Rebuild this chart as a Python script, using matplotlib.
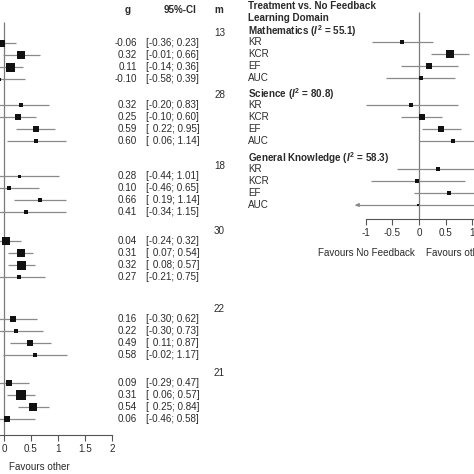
import matplotlib
matplotlib.use("Agg")
import matplotlib.pyplot as plt
from matplotlib import transforms

plt.rcParams['font.family'] = ['Liberation Sans', 'DejaVu Sans']
plt.rcParams['mathtext.fontset'] = 'custom'
plt.rcParams['mathtext.rm'] = 'Liberation Sans:bold'
plt.rcParams['mathtext.it'] = 'Liberation Sans:italic:bold'
plt.rcParams['mathtext.bf'] = 'Liberation Sans:bold'

# ---------------- data: left panel (treatment vs. other) ----------------
left_m = [13, 28, 18, 30, 22, 21]
left_g = [
    [-0.06, 0.32, 0.11, -0.10],
    [0.32, 0.25, 0.59, 0.60],
    [0.28, 0.10, 0.66, 0.41],
    [0.04, 0.31, 0.32, 0.27],
    [0.16, 0.22, 0.49, 0.58],
    [0.09, 0.31, 0.54, 0.06],
]
left_lo = [
    [-0.36, -0.01, -0.14, -0.58],
    [-0.20, -0.10, 0.22, 0.06],
    [-0.44, -0.46, 0.19, -0.34],
    [-0.24, 0.07, 0.08, -0.21],
    [-0.30, -0.30, 0.11, -0.02],
    [-0.29, 0.06, 0.25, -0.46],
]
left_hi = [
    [0.23, 0.66, 0.36, 0.39],
    [0.83, 0.60, 0.95, 1.14],
    [1.01, 0.65, 1.14, 1.15],
    [0.32, 0.54, 0.57, 0.75],
    [0.62, 0.73, 0.87, 1.17],
    [0.47, 0.57, 0.84, 0.58],
]
left_w = [
    [7, 7.5, 9, 3],
    [4.7, 6.3, 5.7, 5],
    [3, 5, 4.7, 3.3],
    [8, 8.3, 9, 4.3],
    [5.3, 4.7, 6.7, 4.3],
    [6.7, 9.7, 7.7, 5.3],
]

# ---------------- data: right panel (treatment vs. no feedback) ----------------
right_title = "Treatment vs. No Feedback"
right_subtitle = "Learning Domain"
right_groups = ["Mathematics", "Science", "General Knowledge"]
right_i2 = [55.1, 80.8, 58.3]
feedback_types = ["KR", "KCR", "EF", "AUC"]
right_g = [
    [-0.32, 0.58, 0.19, 0.03],
    [-0.15, 0.05, 0.41, 0.63],
    [0.35, -0.03, 0.56, -0.01],
]
right_lo = [
    [-0.89, 0.23, -0.34, -0.62],
    [-1.00, -0.34, 0.06, 0.00],
    [-0.42, -0.90, -0.09, -1.45],
]
right_hi = [
    [0.26, 0.94, 0.73, 0.68],
    [0.73, 0.43, 0.78, 1.26],
    [1.12, 0.86, 1.21, 1.40],
]
right_w = [
    [4.7, 7.3, 5.3, 4],
    [3.3, 6.7, 6.7, 4.3],
    [4, 3.3, 4.3, 2.2],
]

tick_vals_left = [0, 0.5, 1, 1.5, 2]
tick_vals_right = [-1, -0.5, 0, 0.5, 1]

# ---------------- layout ----------------
W = H = 474
fig = plt.figure(figsize=(W / 100, H / 100), dpi=100)
FS = 7.1
TXT = '#2a2a2a'
LINE = '#8a8a8a'
SQ = '#111111'


def add_px_axes(left, top, width, height):
    return fig.add_axes([left / W, 1 - (top + height) / H, width / W, height / H])


def style_axis(ax, ticks, bounds, xlim, ylim):
    for s in ['top', 'right', 'left']:
        ax.spines[s].set_visible(False)
    ax.spines['bottom'].set_color('#555555')
    ax.spines['bottom'].set_linewidth(0.8)
    ax.set_yticks([])
    ax.set_xticks(ticks)
    ax.set_xticklabels([f"{t:g}" for t in ticks], fontsize=FS, color=TXT)
    ax.tick_params(axis='x', length=4, width=0.8, color='#555555', pad=2.5)
    ax.set_xlim(*xlim)
    ax.set_ylim(*ylim)
    ax.spines['bottom'].set_bounds(*bounds)
    ax.patch.set_alpha(0)


def draw_rows(ax, g, lo, hi, w, ys, xmin, xmax):
    for gi, lo_i, hi_i, wi, y in zip(g, lo, hi, w, ys):
        a = max(lo_i, xmin)
        b = min(hi_i, xmax)
        ax.plot([a, b], [y, y], color=LINE, lw=0.9, solid_capstyle='butt', zorder=2)
        if lo_i < xmin:
            ax.annotate('', xy=(xmin, y), xytext=(xmin + 0.08, y),
                        arrowprops=dict(arrowstyle='-|>', color=LINE, lw=0.9,
                                        mutation_scale=5, shrinkA=0, shrinkB=0))
        ax.plot([gi], [y], marker='s', ms=wi * 0.72, color=SQ, mec=SQ, mew=0, zorder=3)


# ---- left panel: x data 0 at px 4, 54 px per unit ----
L0, LS = 4, 54
lx0, lx1 = -1.0, 2.3
axL = add_px_axes(L0 + lx0 * LS, 0, (lx1 - lx0) * LS, 435)
style_axis(axL, tick_vals_left, (-1, 2), (lx0, lx1), (435, 0))
axL.vlines(0, 22, 435, color='#7a7a7a', lw=0.9, zorder=1)

left_first_rows = [43, 105, 176, 241, 319, 383]
row_step = 12.1
trL = transforms.blended_transform_factory(fig.transFigure, axL.transData)
axL.text(128 / W, 10, "g", transform=trL, ha='center', va='center', fontsize=FS,
         fontweight='bold', color=TXT)
axL.text(180 / W, 10, "95%-CI", transform=trL, ha='center', va='center', fontsize=FS,
         fontweight='bold', color=TXT)
axL.text(219 / W, 10, "m", transform=trL, ha='center', va='center', fontsize=FS,
         fontweight='bold', color=TXT)
for k, y0 in enumerate(left_first_rows):
    ys = [y0 + i * row_step for i in range(len(left_g[k]))]
    draw_rows(axL, left_g[k], left_lo[k], left_hi[k], left_w[k], ys, lx0, lx1)
    axL.text(225 / W, y0 - 10, f"{left_m[k]}", transform=trL, ha='right', va='center',
             fontsize=FS, color=TXT)
    for gi, lo_i, hi_i, y in zip(left_g[k], left_lo[k], left_hi[k], ys):
        axL.text(137 / W, y, f"{gi:.2f}", transform=trL, ha='right', va='center',
                 fontsize=FS, color=TXT)
        axL.text(146 / W, y, f"[{lo_i:5.2f}; {hi_i:.2f}]".replace("[ ", "[\u2009\u2009"),
                 transform=trL, ha='left', va='center', fontsize=FS, color=TXT)
axL.text(0.1, 467, "Favours other", ha='left', va='center', fontsize=FS, color=TXT,
         clip_on=False)

# ---- right panel: x data 0 at px 419, 53.3 px per unit ----
R0, RS = 419, 53.3
rx0, rx1 = -1.2, 1.2
axR = add_px_axes(R0 + rx0 * RS, 0, (rx1 - rx0) * RS, 219)
style_axis(axR, tick_vals_right, (-1, rx1), (rx0, rx1), (219, 0))
axR.vlines(0, 12, 219, color='#7a7a7a', lw=0.9, zorder=1)

trR = transforms.blended_transform_factory(fig.transFigure, axR.transData)
LX = 248 / W
axR.text(LX, 6, right_title, transform=trR, ha='left', va='center', fontsize=FS,
         fontweight='bold', color=TXT)
axR.text(LX, 18, right_subtitle, transform=trR, ha='left', va='center', fontsize=FS,
         fontweight='bold', color=TXT)
right_first_rows = [42, 105, 169]
for k, y0 in enumerate(right_first_rows):
    ys = [y0 + i * 12 for i in range(len(feedback_types))]
    axR.text(LX, y0 - 11, rf"{right_groups[k]} ($\mathit{{I}}^{{\mathbf{{2}}}}$ = {right_i2[k]:.1f})",
             transform=trR, ha='left', va='center', fontsize=FS, fontweight='bold', color=TXT)
    for lab, y in zip(feedback_types, ys):
        axR.text(LX, y, lab, transform=trR, ha='left', va='center', fontsize=FS, color=TXT)
    draw_rows(axR, right_g[k], right_lo[k], right_hi[k], right_w[k], ys, rx0, 3)
axR.text(-0.07, 253, "Favours No Feedback", ha='right', va='center', fontsize=FS,
         color=TXT, clip_on=False)
axR.text(0.14, 253, "Favours other", ha='left', va='center', fontsize=FS, color=TXT,
         clip_on=False)

fig.savefig("out.png", dpi=100, facecolor='white')
